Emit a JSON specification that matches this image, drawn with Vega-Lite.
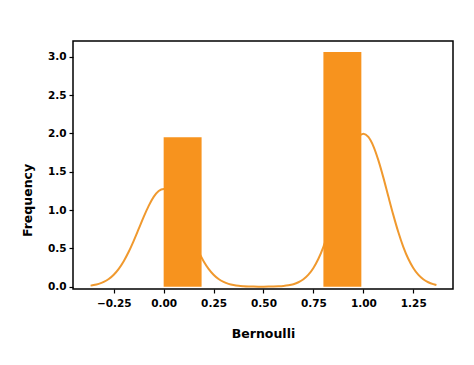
{
  "$schema": "https://vega.github.io/schema/vega-lite/v6.json",
  "autosize": {"type": "none"},
  "width": 380,
  "height": 248,
  "padding": {"left": 73, "top": 41, "right": 21, "bottom": 76},
  "background": "white",
  "config": {
    "view": {"stroke": "black", "strokeWidth": 1.5},
    "axis": {
      "labelFont": "DejaVu Sans",
      "labelFontWeight": "bold",
      "labelFontSize": 10.5,
      "labelColor": "black",
      "titleFont": "DejaVu Sans",
      "titleFontWeight": "bold",
      "titleFontSize": 12.5,
      "titleColor": "black",
      "domain": false,
      "grid": false,
      "tickColor": "black",
      "tickSize": 4,
      "tickWidth": 1.2
    }
  },
  "datasets": {
    "bars": [
      {"x0": 0.0, "x1": 0.19, "density": 1.95},
      {"x0": 0.8, "x1": 0.99, "density": 3.06}
    ],
    "kde": [
      {"x": -0.366, "y": 0.014}, {"x": -0.35, "y": 0.021}, {"x": -0.325, "y": 0.037},
      {"x": -0.3, "y": 0.062}, {"x": -0.275, "y": 0.1}, {"x": -0.25, "y": 0.156},
      {"x": -0.225, "y": 0.233}, {"x": -0.2, "y": 0.333}, {"x": -0.175, "y": 0.456},
      {"x": -0.15, "y": 0.599}, {"x": -0.125, "y": 0.754}, {"x": -0.1, "y": 0.911},
      {"x": -0.075, "y": 1.055}, {"x": -0.05, "y": 1.172}, {"x": -0.025, "y": 1.248},
      {"x": 0.0, "y": 1.275}, {"x": 0.025, "y": 1.248}, {"x": 0.05, "y": 1.172},
      {"x": 0.075, "y": 1.055}, {"x": 0.1, "y": 0.911}, {"x": 0.125, "y": 0.754},
      {"x": 0.15, "y": 0.599}, {"x": 0.175, "y": 0.456}, {"x": 0.2, "y": 0.333},
      {"x": 0.225, "y": 0.233}, {"x": 0.25, "y": 0.156}, {"x": 0.275, "y": 0.1},
      {"x": 0.3, "y": 0.062}, {"x": 0.325, "y": 0.037}, {"x": 0.35, "y": 0.021},
      {"x": 0.375, "y": 0.011}, {"x": 0.4, "y": 0.006}, {"x": 0.425, "y": 0.003},
      {"x": 0.45, "y": 0.0015}, {"x": 0.475, "y": 0.0008}, {"x": 0.5, "y": 0.0007},
      {"x": 0.525, "y": 0.0011}, {"x": 0.55, "y": 0.0022}, {"x": 0.575, "y": 0.0046},
      {"x": 0.6, "y": 0.0092}, {"x": 0.625, "y": 0.018}, {"x": 0.65, "y": 0.033},
      {"x": 0.675, "y": 0.058}, {"x": 0.7, "y": 0.097}, {"x": 0.725, "y": 0.157},
      {"x": 0.75, "y": 0.244}, {"x": 0.775, "y": 0.364}, {"x": 0.8, "y": 0.52},
      {"x": 0.825, "y": 0.713}, {"x": 0.85, "y": 0.937}, {"x": 0.875, "y": 1.179},
      {"x": 0.9, "y": 1.426}, {"x": 0.925, "y": 1.651}, {"x": 0.95, "y": 1.834},
      {"x": 0.975, "y": 1.953}, {"x": 1.0, "y": 1.995}, {"x": 1.025, "y": 1.953},
      {"x": 1.05, "y": 1.834}, {"x": 1.075, "y": 1.651}, {"x": 1.1, "y": 1.426},
      {"x": 1.125, "y": 1.179}, {"x": 1.15, "y": 0.937}, {"x": 1.175, "y": 0.713},
      {"x": 1.2, "y": 0.52}, {"x": 1.225, "y": 0.364}, {"x": 1.25, "y": 0.244},
      {"x": 1.275, "y": 0.157}, {"x": 1.3, "y": 0.097}, {"x": 1.325, "y": 0.058},
      {"x": 1.35, "y": 0.033}, {"x": 1.366, "y": 0.022}
    ]
  },
  "layer": [
    {
      "data": {"name": "kde"},
      "mark": {"type": "line", "color": "#F0992E", "strokeWidth": 2, "interpolate": "monotone"},
      "encoding": {
        "x": {
          "field": "x", "type": "quantitative",
          "scale": {"domain": [-0.454, 1.449], "nice": false, "zero": false},
          "axis": {
            "values": [-0.25, 0, 0.25, 0.5, 0.75, 1.0, 1.25],
            "format": ".2f",
            "labelPadding": 5,
            "title": "Bernoulli",
            "titleY": 44,
            "titleBaseline": "middle"
          }
        },
        "y": {
          "field": "y", "type": "quantitative",
          "scale": {"domain": [-0.03, 3.205], "nice": false, "zero": false},
          "axis": {
            "values": [0, 0.5, 1, 1.5, 2, 2.5, 3],
            "format": ".1f",
            "labelPadding": 3,
            "title": "Frequency",
            "titleY": 159,
            "titleX": -39,
            "titleAlign": "center",
            "titleBaseline": "bottom"
          }
        }
      }
    },
    {
      "data": {"name": "bars"},
      "mark": {"type": "bar", "color": "#F7931E"},
      "encoding": {
        "x": {"field": "x0", "type": "quantitative"},
        "x2": {"field": "x1"},
        "y": {"field": "density", "type": "quantitative"},
        "y2": {"datum": 0}
      }
    }
  ]
}
